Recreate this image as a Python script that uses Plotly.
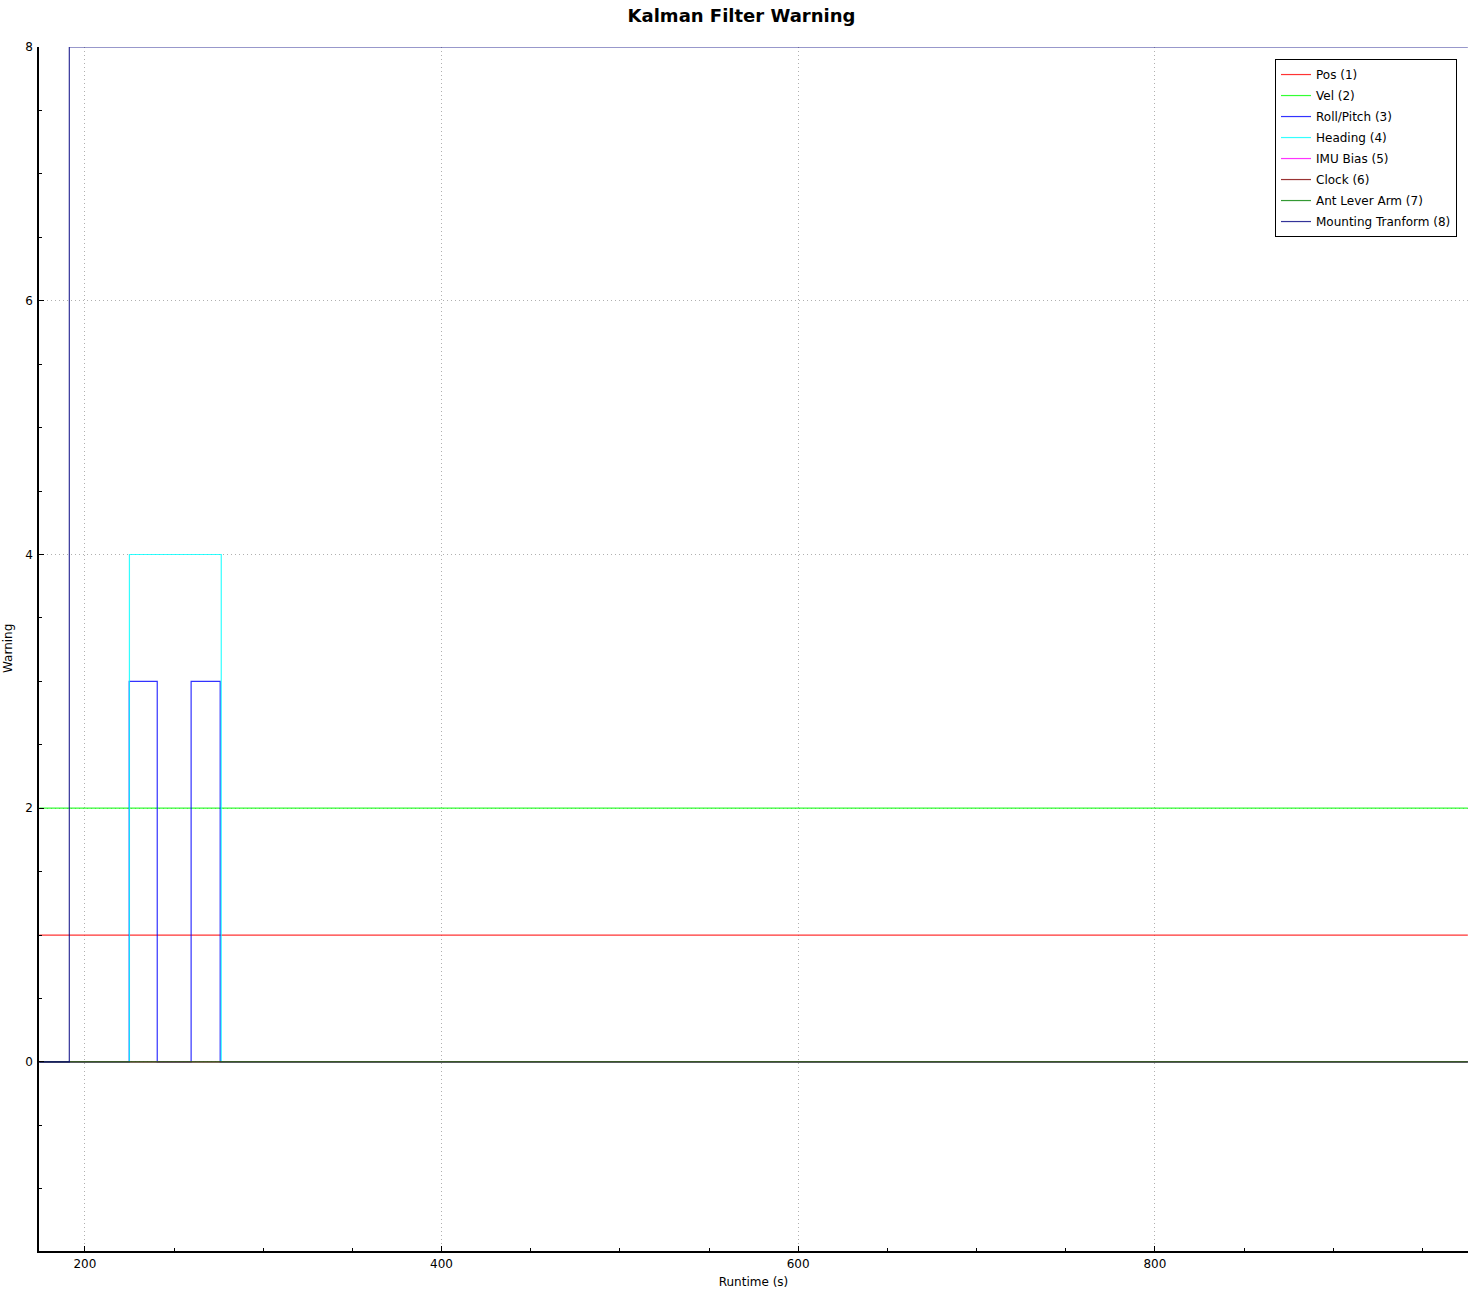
import plotly.graph_objects as go

# ---- data ----
x_start = 174.5
x_end = 975.5

pos_x = [x_start, x_end]
pos_y = [1, 1]

vel_x = [x_start, x_end]
vel_y = [2, 2]

rollpitch_x = [x_start, 224.9, 240.6, 259.6, 275.9, x_end]
rollpitch_y = [0, 3, 0, 3, 0, 0]

heading_x = [x_start, 225.0, 276.5, x_end]
heading_y = [0, 4, 0, 0]

imu_x = [x_start, x_end]
imu_y = [0, 0]

clock_x = [x_start, x_end]
clock_y = [0, 0]

ant_x = [x_start, x_end]
ant_y = [0, 0]

mount_x = [x_start, 191.3, x_end]
mount_y = [0, 8, 8]

series = [
    ("Pos (1)", pos_x, pos_y, "#ff0000"),
    ("Vel (2)", vel_x, vel_y, "#00ff00"),
    ("Roll/Pitch (3)", rollpitch_x, rollpitch_y, "#0000ff"),
    ("Heading (4)", heading_x, heading_y, "#00ffff"),
    ("IMU Bias (5)", imu_x, imu_y, "#ff00ff"),
    ("Clock (6)", clock_x, clock_y, "#800000"),
    ("Ant Lever Arm (7)", ant_x, ant_y, "#008000"),
    ("Mounting Tranform (8)", mount_x, mount_y, "#000080"),
]

x_ticks = [200, 400, 600, 800]
y_ticks = [0, 2, 4, 6, 8]

fig = go.Figure()
for i, (name, xs, ys, color) in enumerate(series):
    fig.add_trace(go.Scatter(
        x=xs, y=ys, name=name, mode="lines", legendgroup=f"g{i}",
        line=dict(color=color, width=1.2, shape="hv"),
        opacity=0.8,
    ))

font_family = "DejaVu Sans, Verdana, sans-serif"

fig.update_layout(
    width=1483, height=1292,
    paper_bgcolor="white", plot_bgcolor="white",
    margin=dict(l=39, r=15, t=47, b=41),
    title=dict(text="<b>Kalman Filter Warning</b>", x=0.5, xanchor="center",
               y=0.9876, yanchor="middle",
               font=dict(family=font_family, size=18, color="black")),
    font=dict(family=font_family, size=12, color="black"),
    showlegend=True,
    legend=dict(
        x=0.9923, y=0.9900, xanchor="right", yanchor="top",
        bgcolor="white", bordercolor="black", borderwidth=1,
        font=dict(family=font_family, size=12, color="black"),
        itemwidth=30, tracegroupgap=2,
    ),
    xaxis=dict(
        range=[174.3, 975.6],
        tickvals=x_ticks, ticktext=[str(v) for v in x_ticks],
        ticks="inside", ticklen=5, tickcolor="black",
        showline=True, linecolor="black", linewidth=1.5,
        showgrid=True, gridcolor="#b0b0b0", griddash="1px,3px", gridwidth=1,
        zeroline=False, automargin=False,
        minor=dict(dtick=50, tick0=0, ticks="inside", ticklen=3, tickcolor="black", showgrid=False),
        title=dict(text="Runtime (s)", font=dict(size=12), standoff=7),
        tickfont=dict(size=12),
        ticklabelstandoff=1,
    ),
    yaxis=dict(
        range=[-1.49, 8],
        tickvals=y_ticks, ticktext=[str(v) for v in y_ticks],
        ticks="inside", ticklen=5, tickcolor="black",
        showline=True, linecolor="black", linewidth=1.5,
        showgrid=True, gridcolor="#b0b0b0", griddash="1px,3px", gridwidth=1,
        zeroline=False, automargin=False,
        minor=dict(dtick=0.5, tick0=0, ticks="inside", ticklen=3, tickcolor="black", showgrid=False),
        tickfont=dict(size=12),
        ticklabelstandoff=2,
    ),
    annotations=[dict(
        text="Warning", xref="paper", yref="paper", x=0, y=0.5,
        xanchor="center", yanchor="middle", xshift=-31, textangle=-90,
        showarrow=False, font=dict(family=font_family, size=12, color="black"),
    )],
)

fig.write_html("out.html", config={"displayModeBar": False},
               post_script="document.body.style.margin='0px';")
